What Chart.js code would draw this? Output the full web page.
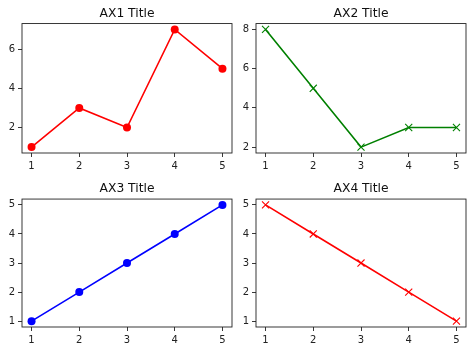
<!DOCTYPE html>
<html>
<head>
<meta charset="utf-8">
<script src="https://cdn.jsdelivr.net/npm/chart.js@4.4.1/dist/chart.umd.min.js"></script>
<style>
  html, body { margin: 0; padding: 0; background: #fff; }
  #fig { position: relative; width: 474px; height: 353px; }
  #fig canvas { position: absolute; }
</style>
</head>
<body>
<div id="fig">
  <canvas id="ax1" width="240" height="176" style="left:0px;top:0px"></canvas>
  <canvas id="ax2" width="240" height="176" style="left:234px;top:0px"></canvas>
  <canvas id="ax3" width="240" height="177" style="left:0px;top:176px"></canvas>
  <canvas id="ax4" width="240" height="177" style="left:234px;top:176px"></canvas>
</div>
<script>
// data
const xValues = [1, 2, 3, 4, 5];
const ax1Values = [1, 3, 2, 7, 5];
const ax2Values = [8, 5, 2, 3, 3];
const ax3Values = [1, 2, 3, 4, 5];
const ax4Values = [5, 4, 3, 2, 1];

// tick labels
const xTicks = [1, 2, 3, 4, 5];
const ax1YTicks = [2, 4, 6];
const ax2YTicks = [2, 4, 6, 8];
const ax3YTicks = [1, 2, 3, 4, 5];
const ax4YTicks = [1, 2, 3, 4, 5];

const titles = ["AX1 Title", "AX2 Title", "AX3 Title", "AX4 Title"];

const FONT = "'DejaVu Sans', sans-serif";

// draws the top/right spines too
const frame = {
  id: "frame",
  afterDraw(chart) {
    const a = chart.chartArea;
    const ctx = chart.ctx;
    ctx.save();
    ctx.strokeStyle = "#222";
    ctx.lineWidth = 0.9;
    ctx.strokeRect(a.left, a.top, a.right - a.left, a.bottom - a.top);
    ctx.restore();
  }
};

function limits(vals) {
  const lo = Math.min(...vals), hi = Math.max(...vals);
  const m = (hi - lo) * 0.05;
  return [lo - m, hi + m];
}

function makeAxes(id, title, values, yTicks, color, style, opts) {
  const [xmin, xmax] = limits(xValues);
  const [ymin, ymax] = limits(values);
  const points = xValues.map((x, i) => ({ x: x, y: values[i] }));
  const tickFont = { family: FONT, size: 10 };
  const grid = { drawOnChartArea: false, drawTicks: true, tickLength: 4, color: "#222", lineWidth: 0.9 };

  return new Chart(document.getElementById(id), {
    type: "line",
    data: {
      datasets: [{
        data: points,
        borderColor: color,
        backgroundColor: color,
        borderWidth: 1.6,
        pointStyle: style,
        pointRadius: style === "circle" ? 4 : 5,
        pointBorderWidth: style === "circle" ? 0 : 1.1,
        pointBorderColor: color,
        tension: 0,
        fill: false
      }]
    },
    options: {
      responsive: false,
      animation: false,
      events: [],
      layout: { padding: { left: 0, right: 8, top: 0, bottom: 0 } },
      plugins: {
        legend: { display: false },
        tooltip: { enabled: false },
        title: {
          display: true,
          text: title,
          color: "#111",
          fullSize: false,
          font: { family: FONT, size: 12.3, weight: "normal", lineHeight: 1.2 },
          padding: opts.titlePad
        }
      },
      scales: {
        x: {
          type: "linear",
          min: xmin,
          max: xmax,
          afterBuildTicks: s => { s.ticks = xTicks.map(v => ({ value: v })); },
          afterFit: s => { s.height = opts.xHeight; },
          grid: grid,
          border: { display: false },
          ticks: { font: tickFont, color: "#222", padding: 3, maxRotation: 0 }
        },
        y: {
          type: "linear",
          min: ymin,
          max: ymax,
          afterBuildTicks: s => { s.ticks = yTicks.map(v => ({ value: v })); },
          afterFit: s => { s.width = opts.yWidth; },
          grid: grid,
          border: { display: false },
          ticks: { font: tickFont, color: "#222", padding: 3 }
        }
      }
    },
    plugins: [frame]
  });
}

makeAxes("ax1", titles[0], ax1Values, ax1YTicks, "#ff0000", "circle",
  { titlePad: { top: 6.8, bottom: 2 }, xHeight: 23, yWidth: 22 });
makeAxes("ax2", titles[1], ax2Values, ax2YTicks, "#008000", "crossRot",
  { titlePad: { top: 6.8, bottom: 2 }, xHeight: 23, yWidth: 22 });
makeAxes("ax3", titles[2], ax3Values, ax3YTicks, "#0000ff", "circle",
  { titlePad: { top: 5.5, bottom: 2.8 }, xHeight: 26, yWidth: 22 });
makeAxes("ax4", titles[3], ax4Values, ax4YTicks, "#ff0000", "crossRot",
  { titlePad: { top: 5.5, bottom: 2.8 }, xHeight: 26, yWidth: 22 });
</script>
</body>
</html>
